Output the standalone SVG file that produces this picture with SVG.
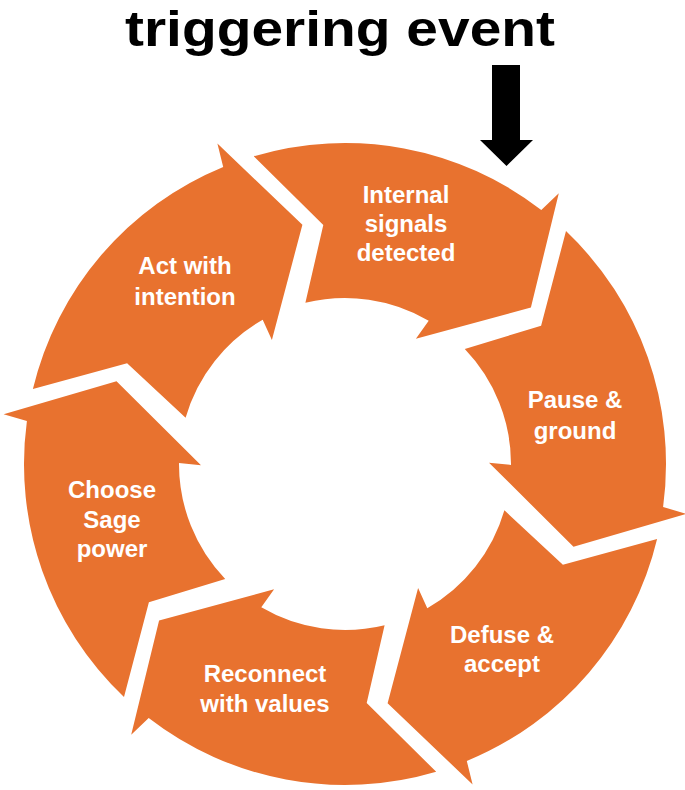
<svg xmlns="http://www.w3.org/2000/svg" width="685" height="790" viewBox="0 0 685 790">
  <style>
    .seg { fill: #E8722F; }
    .lbl { font-family: "Liberation Sans", Arial, sans-serif; font-weight: bold; font-size: 24px; fill: #FFFFFF; text-anchor: middle; }
    .title { font-family: "Liberation Sans", Arial, sans-serif; font-weight: bold; font-size: 50px; fill: #000000; }
  </style>
  <rect width="685" height="790" fill="#FFFFFF"/>
  <text class="title" x="125" y="45.5" textLength="430" lengthAdjust="spacingAndGlyphs">triggering event</text>

  <g id="connectors">
    <path d="M492,65 L520,65 L520,140 L533,140 L506.5,166 L480,140 L492,140 Z" fill="#000000"/>
  </g>

  <g id="node-internal-signals">
    <path class="seg" d="M253.8,156.2 A321,321 0 0 1 541.3,210.0 L558.8,193.2 L530.9,307.5 L415.9,338.7 L428.7,320.7 A166,166 0 0 0 305.4,302.8 L323.3,225.0 Z"/>
    <text class="lbl" x="406" y="203">Internal</text>
    <text class="lbl" x="406" y="232">signals</text>
    <text class="lbl" x="406" y="261">detected</text>
  </g>

  <g id="node-pause-ground">
    <path class="seg" d="M566.0,231.1 A321,321 0 0 1 663.1,507.0 L686.4,513.8 L573.5,546.7 L489.0,462.7 L511.0,464.9 A166,166 0 0 0 464.8,349.1 L541.1,325.7 Z"/>
    <text class="lbl" x="575" y="408">Pause &amp;</text>
    <text class="lbl" x="575" y="439">ground</text>
  </g>

  <g id="node-defuse-accept">
    <path class="seg" d="M657.1,538.9 A321,321 0 0 1 466.8,761.0 L472.6,784.5 L387.6,703.2 L418.1,588.1 L427.3,608.2 A166,166 0 0 0 504.4,510.3 L562.9,564.7 Z"/>
    <text class="lbl" x="502" y="643">Defuse &amp;</text>
    <text class="lbl" x="502" y="672">accept</text>
  </g>

  <g id="node-reconnect-values">
    <path class="seg" d="M436.2,771.8 A321,321 0 0 1 148.7,718.0 L131.2,734.8 L159.1,620.5 L274.1,589.3 L261.3,607.3 A166,166 0 0 0 384.6,625.2 L366.7,703.0 Z"/>
    <text class="lbl" x="265" y="682">Reconnect</text>
    <text class="lbl" x="265" y="712">with values</text>
  </g>

  <g id="node-choose-sage-power">
    <path class="seg" d="M124.0,696.9 A321,321 0 0 1 26.9,421.0 L3.6,414.2 L116.5,381.3 L201.0,465.3 L179.0,463.1 A166,166 0 0 0 225.2,578.9 L148.9,602.3 Z"/>
    <text class="lbl" x="112" y="498">Choose</text>
    <text class="lbl" x="112" y="528">Sage</text>
    <text class="lbl" x="112" y="557">power</text>
  </g>

  <g id="node-act-with-intention">
    <path class="seg" d="M32.9,389.1 A321,321 0 0 1 223.2,167.0 L217.4,143.5 L302.4,224.8 L271.9,339.9 L262.7,319.8 A166,166 0 0 0 185.6,417.7 L127.1,363.3 Z"/>
    <text class="lbl" x="185" y="274">Act with</text>
    <text class="lbl" x="185" y="305">intention</text>
  </g>
</svg>
